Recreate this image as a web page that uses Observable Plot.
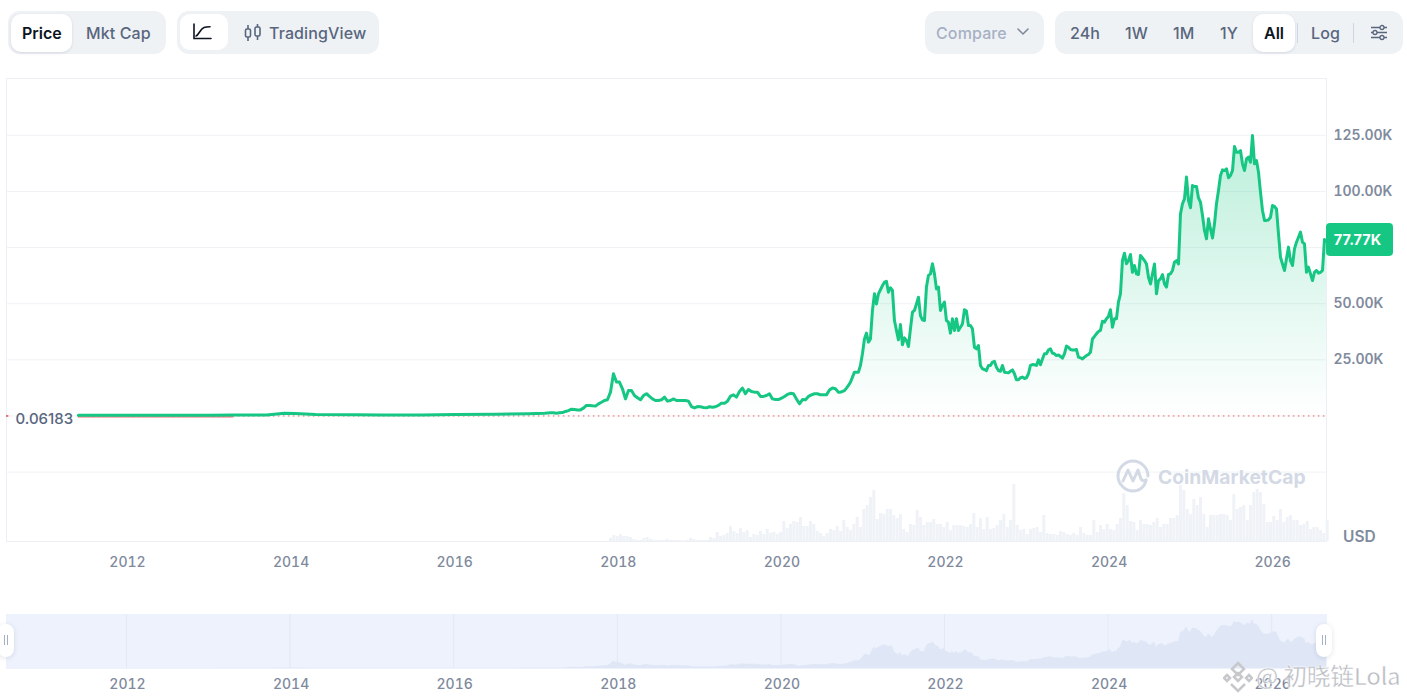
<!DOCTYPE html>
<html><head><meta charset="utf-8">
<script src="https://cdn.jsdelivr.net/npm/d3@7"></script>
<script src="https://cdn.jsdelivr.net/npm/@observablehq/plot@0.6"></script>
<style>
html,body{margin:0;padding:0;background:#fff;width:1407px;height:700px;overflow:hidden;font-family:Inter,sans-serif}
#stage{position:relative;width:1407px;height:700px;overflow:hidden}
.grp{position:absolute;top:11px;height:43px;background:#eff2f5;border-radius:12px}
.on{position:absolute;background:#fff;border-radius:10px;box-shadow:0 1px 3px rgba(88,102,126,.18)}
.t{position:absolute;top:24px;font-size:16px;line-height:18px;font-weight:500;color:#58667e;white-space:nowrap;letter-spacing:.12px}
.t.a{color:#0d1421;font-weight:600;letter-spacing:0}
.sep{position:absolute;width:1px;top:23px;height:20px;background:#cfd6e4}
.handle{position:absolute;top:624px;width:16px;height:33px;background:#fff;border-radius:8px;box-shadow:0 1px 5px rgba(88,102,126,.18)}
.handle:after{content:"";position:absolute;left:5.5px;top:11px;width:2px;height:10px;border-left:1px solid #a6b0c3;border-right:1px solid #a6b0c3}
#badge{position:absolute;left:1326px;top:223px;width:63px;padding-right:4px;height:33px;background:#16c784;border-radius:4px;color:#fff;font-weight:700;font-size:14.5px;line-height:33px;text-align:center}
#usd{position:absolute;left:1343px;top:528px;font-size:15.5px;line-height:18px;font-weight:600;color:#808a9d}
#cmc{position:absolute;left:1158px;top:464px;font-size:19.3px;line-height:26px;font-weight:700;color:#d3d9e5;white-space:nowrap}
#lola{position:absolute;left:1256px;top:660px;font-family:"Noto Sans CJK SC",sans-serif;font-size:23.5px;line-height:30px;color:#b9bcc2;white-space:nowrap;-webkit-text-stroke:.3px #fff;text-shadow:0 0 2px #fff}
</style></head><body>
<div id="stage">
  <div class="grp" style="left:8px;width:158px"></div>
  <div class="on" style="left:11px;top:14px;width:61px;height:38px"></div>
  <div class="t a" style="left:22px">Price</div>
  <div class="t" style="left:86px">Mkt Cap</div>
  <div class="grp" style="left:177px;width:202px"></div>
  <div class="on" style="left:180px;top:14px;width:48px;height:36px;box-shadow:none"></div>
  <svg style="position:absolute;left:192px;top:23px" width="20" height="18" viewBox="0 0 20 18" fill="none" stroke="#0d1421" stroke-width="1.6" stroke-linecap="round"><path d="M2 1v14.500h17"/><path d="M4 13c3-1 4-7 8-8.500 2-.8 4-.8 6-.8"/></svg>
  <svg style="position:absolute;left:244px;top:23px" width="18" height="19" viewBox="0 0 18 19" fill="none" stroke="#58667e" stroke-width="1.6"><rect x="1.500" y="6" width="5" height="8" rx="1.500"/><rect x="11" y="4" width="5" height="9" rx="1.500"/><path d="M4 2v4M4 14v4M13.500 1v3M13.500 13v4"/></svg>
  <div class="t" style="left:269px">TradingView</div>
  <div class="grp" style="left:925px;width:119px"></div>
  <div class="t" style="left:936px;color:#a6b0c3">Compare</div>
  <svg style="position:absolute;left:1016px;top:27px" width="14" height="10" viewBox="0 0 14 10" fill="none" stroke="#808a9d" stroke-width="1.600" stroke-linecap="round" stroke-linejoin="round"><path d="M2 2l5 5 5-5"/></svg>
  <div class="grp" style="left:1055px;width:348px"></div>
  <div class="t" style="left:1070px">24h</div>
  <div class="t" style="left:1125px">1W</div>
  <div class="t" style="left:1173px">1M</div>
  <div class="t" style="left:1220px">1Y</div>
  <div class="on" style="left:1253px;top:14px;width:42px;height:38px"></div>
  <div class="t a" style="left:1264px">All</div>
  <div class="sep" style="left:1297px"></div>
  <div class="t" style="left:1311px">Log</div>
  <div class="sep" style="left:1353px"></div>
  <svg style="position:absolute;left:1370px;top:24px" width="18" height="17" viewBox="0 0 18 17" fill="none" stroke="#58667e" stroke-width="1.300"><path d="M1 3.500h9M14 3.500h3M1 8.500h2M7 8.500h10M1 13.500h9M14 13.500h3"/><circle cx="12" cy="3.500" r="2"/><circle cx="5" cy="8.500" r="2"/><circle cx="12" cy="13.500" r="2"/></svg>
  <div id="main"></div>
  <div id="vol"></div>
  <div id="nav"></div>
  <div id="badge">77.77K</div>
  <div id="usd">USD</div>
  <svg style="position:absolute;left:1116px;top:459px" width="34" height="34" viewBox="0 0 34 34" fill="none" stroke="#d3d9e5" stroke-width="3" stroke-linecap="round" stroke-linejoin="round"><path d="M30 21c-1 7-7 11-13 11C9 32 2 25 2 17S9 2 17 2s15 7 15 15"/><path d="M7 22l5-11 5 11 5-11 3 9c1 2 3 2 5 1"/></svg>
  <div id="cmc">CoinMarketCap</div>
  <div class="handle" style="left:-2px"></div>
  <div class="handle" style="left:1316px"></div>
  <svg style="position:absolute;left:1223px;top:660px" width="30" height="34" viewBox="0 0 30 34" fill="none" stroke="#c6c8cc" stroke-width="2.500"><path d="M15 3l6 6-6 6-6-6z"/><path d="M4 15l3 3-3 3-3-3zM26 15l3 3-3 3-3-3zM15 13l4 4-4 4-4-4z"/><path d="M8 24l7 7 7-7"/></svg>
  <div id="lola">@ 初晓链Lola</div>
</div>
<script>
// axis
const yearTicks = [2012, 2014, 2016, 2018, 2020, 2022, 2024, 2026];
const priceTicks = [25, 50, 100, 125];           // thousand USD, labelled
const gridLevels = [-25, 0, 25, 50, 75, 100, 125];
const xDomain = [2010.521, 2026.658];
const baselineLabel = "0.06183";
const baselinePrice = 0.00006183;                // thousand USD

// price, thousand USD
const earlyYears = [2011.4, 2011.9, 2012.5, 2013.0, 2013.3, 2013.7, 2013.92, 2014.05, 2014.3, 2014.8, 2015.1, 2015.6, 2016.0, 2016.5, 2016.9, 2017.1];
const earlyPrices = [0.3, 0.3, 0.3, 0.3, 0.4, 0.4, 1.2, 1.1, 0.7, 0.5, 0.4, 0.4, 0.6, 0.8, 1.0, 1.2];

const startB = 2017.171;   // then every 13.4 days
const pricesB = [1.4,1.4,1.2,1.4,1.5,2.0,2.4,3.0,2.9,2.7,2.7,3.5,4.7,4.7,4.5,4.4,5.4,6.1,6.9,7.2,10.6,18.8,15.1,15.1,12.1,7.6,11.3,11.3,9.1,8.1,7.2,9.1,9.9,8.7,7.6,6.9,6.9,7.2,8.4,6.6,6.9,7.6,6.9,6.9,6.9,6.9,6.6,4.2,3.6,4.2,4.1,3.8,3.6,4.1,3.9,4.1,4.7,5.7,5.7,6.6,8.8,9.4,8.4,10.9,12.4,9.9,11.8,10.9,10.6,10.6,8.7,8.7,9.1,9.9,7.6,7.3,7.3,7.9,8.7,9.6,10.1,9.9,7.6,5.4,7.3,7.2,8.7,9.4,9.9,9.9,9.4,9.4,9.4,11.6,12.5,12.1,10.6];

const startC = 2020.716;   // then every 8.9 days
const pricesC = [10.6,10.9,11.3,12.4,13.6,15.0,17.3,19.5,19.5,19.5,22.5,27.7,34.3,36.9,32.9,34.3,47.0,54.4,49.9,54.4,56.2,58.1,59.6,60.0,55.1,57.1,55.9,42.5,38.1,33.9,40.7,31.7,34.8,33.6,30.9,38.8,46.2,47.0,49.9,52.9,44.7,42.8,42.5,57.4,62.6,63.3,67.8,63.3,56.6,57.4,47.0,49.2,50.7,42.5,41.8,36.9,43.3,38.1,43.3,38.1,39.5,41.0,47.3,46.7,40.3,40.3,38.8,30.6,29.9,31.4,22.5,21.0,20.7,20.2,22.5,22.5,24.0,24.3,21.7,20.2,19.9,22.5,19.5,19.3,19.2,19.9,20.5,18.8,16.1,16.1,17.0,17.3,16.7,17.0,18.8,22.5,22.9,22.8,22.5,25.0,22.8,25.4,27.7,27.7,29.4,29.9,28.0,27.7,26.9,27.2,26.5,25.7,27.7,31.1,30.6,29.6,29.4,29.4,29.6,26.2,25.9,25.4,26.2,26.9,27.4,28.4,34.3,35.4,36.6,37.6,38.1,42.2,41.8,43.3,44.3,47.3,39.5,43.3,43.3,50.7,54.4,69.2,72.5,67.8,69.2,71.9,64.0,67.0,63.3,63.0];

const startD = 2024.384;   // then every 8.9 days
const pricesD = [71.5,70.4,69.2,67.7,61.8,58.8,63.3,67.7,54.4,60.3,61.1,63.0,58.8,57.4,63.0,63.3,64.8,68.5,69.2,67.7,90.0,94.5,96.7,106.4,96.0,92.7,102.6,102.2,102.2,97.1,95.2,89.3,82.6,78.9,87.8,83.3,79.3,85.6,94.5,100.4,107.1,109.6,109.3,110.1,106.1,107.1,109.3,120.0,117.5,117.5,118.2,112.3,109.3,114.5,115.3,113.0,124.9,112.3,113.8,108.6,99.7,91.5,87.1,87.1,87.3,88.5,93.7,93.3,92.2,81.1,70.7,67.7,64.8,70.0,75.2,69.2,67.0,74.4,77.4,79.6,81.9,77.4,76.6,64.0,66.3,63.3,60.3,64.0,64.8,63.6,64.0,64.8,78.6,77.77];
const priceStep = 0.02445;

// volume, billion USD
const volStepYears = 0.04075;
const volStartA = 2017.905;
const volumeA = [15,30,25,35,25,25,20,10,5,5,15,20,10,5,5,5,5,10,5,5,5,3,3,5,15,10,5,5,5,5,20,15,45,25,30,40,75,50,40,65,45,55,20,35,30,50,35,60,40,45,35,45,100,65,85,100,95,120,75,75,100,85,50,40,25,40,60,55,75,50,105,70];
const volStartB = 2020.839;
const volumeB = [55,85,120,70,160,180,220,255,110,140,135,160,160,130,115,135,60,45,85,80,155,120,80,95,95,110,85,85,70,95,55,80,80,80,75,70,85,140,70,115,60,120,60,65,80,105,135,70,105,285,80,55,60,35,60,65,70,45,130,40,35,35,30,50,45,35,30,40,30,70,40,30];
const volStartC = 2023.773;
const volumeC = [30,105,45,80,60,85,60,55,85,115,240,180,100,95,55,105,85,85,80,95,115,70,85,85,115,115,130,280,255,160,135,210,180,220,135,70,130,130,130,135,135,130,105,235,160,170,180,105,180,245,260,245,185,95,95,125,105,160,95,120,130,105,105,80,85,100,60,70,70,55,40,105];

const series = (start, step, vals) => vals.map((v, i) => ({year: start + i * step, v}));
const priceRows = [
  ...earlyYears.map((year, i) => ({year, v: earlyPrices[i]})),
  ...series(startB, 3 / 81.8, pricesB),
  ...series(startC, priceStep, pricesC),
  ...series(startD, priceStep, pricesD)
];
const volumeRows = [
  ...series(volStartA, volStepYears, volumeA),
  ...series(volStartB, volStepYears, volumeB),
  ...series(volStartC, volStepYears, volumeC)
];

const green = "#16c784", grid = "#f0f2f5", label = "#808a9d";
const font = {fontFamily: "Inter, sans-serif"};
const gradient = () => {
  const defs = d3.create("svg:defs");
  const g = defs.append("linearGradient").attr("id", "priceFill").attr("x1", 0).attr("x2", 0).attr("y1", 0).attr("y2", 1);
  g.append("stop").attr("offset", "0%").attr("stop-color", green).attr("stop-opacity", 0.29);
  g.append("stop").attr("offset", "100%").attr("stop-color", green).attr("stop-opacity", 0);
  return defs.node();
};

const main = Plot.plot({
  width: 1407, height: 570, marginLeft: 6, marginRight: 81, marginTop: 78, marginBottom: 29,
  style: {...font, background: "transparent", position: "absolute", left: 0, top: 0},
  x: {domain: xDomain, label: null},
  y: {domain: [-55.92, 150.31], label: null},
  marks: [
    gradient,
    Plot.frame({stroke: "#eceff3"}),
    Plot.ruleY(gridLevels, {stroke: grid, strokeWidth: 1}),
    Plot.areaY(priceRows, {x: "year", y: "v", fill: "url(#priceFill)"}),
    Plot.ruleY([baselinePrice], {x1: xDomain[0], x2: 2010.55, stroke: "#ea3943", strokeWidth: 1.4}),
    Plot.ruleY([baselinePrice], {x1: 2011.4, x2: xDomain[1], stroke: "#ea3943", strokeWidth: 1, strokeDasharray: "1.5 3.5", strokeOpacity: 0.8}),
    Plot.ruleY([baselinePrice], {x1: 2011.4, x2: 2013.3, stroke: "#ea3943", strokeWidth: 1.2, strokeOpacity: 0.75, dy: 1}),
    Plot.line(priceRows, {x: "year", y: "v", stroke: green, strokeWidth: 3, strokeLinejoin: "round", curve: "linear"}),
    Plot.text([baselineLabel], {y: () => baselinePrice, frameAnchor: "left", dx: 9, dy: 3, text: d => d, fill: "#58667e", fontSize: 15, fontWeight: 500, textAnchor: "start"}),
    Plot.axisY(priceTicks, {anchor: "right", tickSize: 0, tickPadding: 7, label: null, tickFormat: d => d.toFixed(2) + "K", fill: label, fontSize: 14, fontWeight: 600}),
    Plot.axisX(yearTicks, {anchor: "bottom", tickSize: 0, tickPadding: 16, label: null, tickFormat: "d", fill: label, fontSize: 14, fontWeight: 500})
  ]
});
document.getElementById("main").append(main);

const vol = Plot.plot({
  width: 1407, height: 570, marginLeft: 6, marginRight: 81, marginTop: 78, marginBottom: 29,
  style: {...font, background: "transparent", position: "absolute", left: 0, top: 0},
  x: {domain: xDomain, axis: null},
  y: {domain: [0, 300], range: [541, 481], axis: null},
  marks: [
    Plot.ruleX(volumeRows, {x: "year", y1: 0, y2: "v", stroke: "#eff2f6", strokeWidth: 3})
  ]
});
document.getElementById("vol").append(vol);

const nav = Plot.plot({
  width: 1407, height: 100, marginLeft: 6, marginRight: 81, marginTop: 14, marginBottom: 32,
  style: {...font, background: "transparent", position: "absolute", left: 0, top: "600px"},
  x: {domain: xDomain, label: null},
  y: {domain: [0, 137.8], axis: null},
  marks: [
    Plot.frame({fill: "#edf2fd", stroke: "#edf2fd"}),
    Plot.ruleX(yearTicks, {stroke: "#e3e8f5", strokeWidth: 1, dx: -1}),
    Plot.areaY(priceRows, {x: "year", y: "v", fill: "#dfe6f6"}),
    Plot.axisX(yearTicks, {anchor: "bottom", tickSize: 0, tickPadding: 11, label: null, tickFormat: "d", fill: label, fontSize: 14, fontWeight: 500})
  ]
});
document.getElementById("nav").append(nav);
</script>
</body></html>
